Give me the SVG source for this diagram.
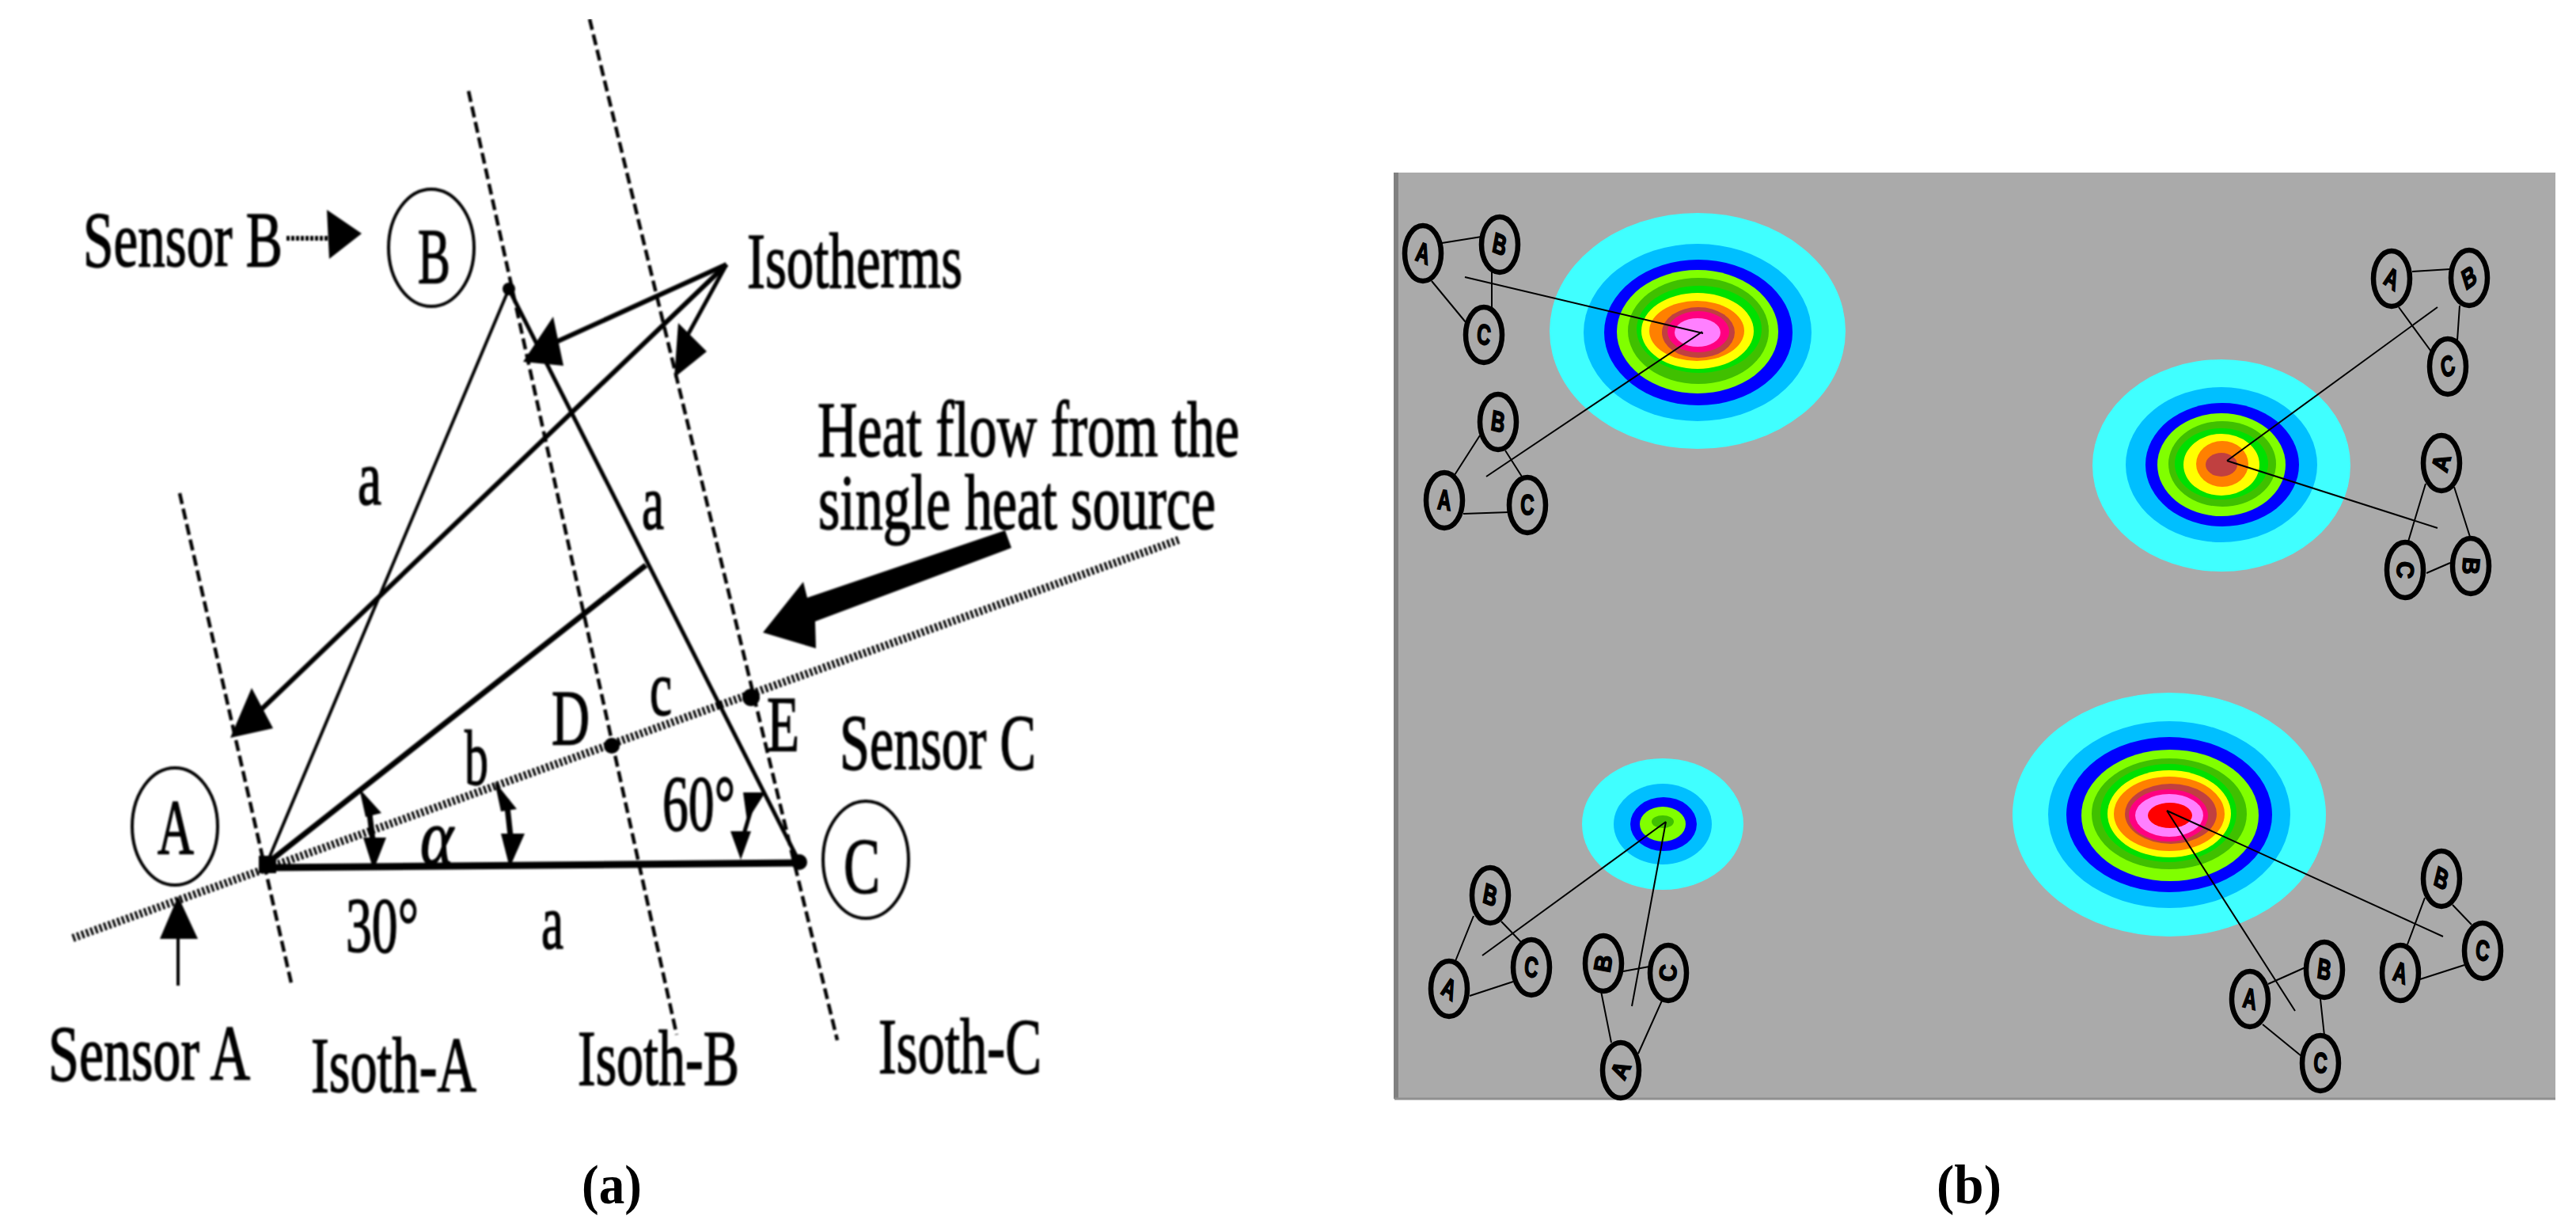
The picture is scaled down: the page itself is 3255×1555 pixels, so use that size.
<svg xmlns="http://www.w3.org/2000/svg" width="3255" height="1555" viewBox="0 0 3255 1555">
<defs><style>
.t{font-family:"Liberation Serif","Times New Roman",serif;font-size:100px;fill:#000;stroke:#000;stroke-width:1.6;}
.cap{font-family:"Liberation Serif","Times New Roman",serif;font-size:70px;font-weight:bold;fill:#000;}
.th{fill:none;stroke:#000;stroke-width:4;}
.iso{fill:none;stroke:#000;stroke-width:4.5;stroke-dasharray:14 6;}
.hatch{fill:none;stroke:#000;stroke-width:10;stroke-dasharray:3 3;}
.ln{fill:none;stroke:#000;stroke-width:5;}
.s{fill:none;stroke:#000;stroke-width:6.5;}
.c{fill:none;stroke:#000;stroke-width:2;}
.l{font-family:"Liberation Sans",Arial,sans-serif;font-size:30px;font-weight:bold;fill:#000;text-anchor:middle;stroke:#000;stroke-width:1.5;}
</style>
<filter id="soft" x="0" y="0" width="1" height="1"><feGaussianBlur stdDeviation="1"/></filter>
</defs>
<rect width="3255" height="1555" fill="#fff"/>

<g id="panel-a" filter="url(#soft)">
<g id="connectors-a">
<path class="iso" d="M227 623L369 1246"/>
<path class="iso" d="M592 115L855 1307"/>
<path class="iso" d="M745 24L1058 1314"/>
<path class="hatch" d="M92 1185L1492 681"/>
<path class="th" d="M337 1091L643 365"/>
<path class="ln" d="M643 365L1010 1089"/>
<path class="ln" style="stroke-width:7" d="M337 1091L816 714"/>
<path class="ln" style="stroke-width:9" d="M337 1096L1010 1090"/>
<path class="ln" style="stroke-width:6" d="M918 334L685 440"/>
<path class="ln" style="stroke-width:6" d="M918 334L300 925"/>
<path class="ln" d="M918 334L868 425"/>
<polygon points="699,400 661,457 712,462"/>
<polygon points="318,869 291,932 345,920"/>
<polygon points="857,408 893,444 852,477"/>
<polygon points="1270,670 1278,692 1030,785 1031,819 964,799 1015,735 1020,755"/>
<path class="th" d="M225 1245V1180"/>
<polygon points="225,1132 202,1186 250,1186"/>
<path class="ln" style="stroke-dasharray:4 2;stroke-width:6" d="M362 301H415"/>
<polygon points="413,265 457,295 416,327"/>
<path class="ln" style="stroke-width:7" d="M466 1020L472 1070"/>
<polygon points="454,996 482,1027 462,1032"/>
<polygon points="459,1058 488,1058 472,1099"/>
<path class="ln" style="stroke-width:7" d="M640 1010L646 1065"/>
<polygon points="625,987 653,1022 633,1025"/>
<polygon points="633,1053 663,1053 644,1096"/>
<path class="ln" d="M950 1020L938 1060"/>
<polygon points="939,1001 967,1001 944,1037"/>
<polygon points="923,1050 949,1050 936,1086"/>
</g>
<g id="node-A"><ellipse class="th" cx="221" cy="1044" rx="54" ry="74"/><text class="t" x="199" y="1079" textLength="46" lengthAdjust="spacingAndGlyphs">A</text></g>
<g id="node-B"><ellipse class="th" cx="545" cy="313" rx="54" ry="74"/><text class="t" x="528" y="357" textLength="41" lengthAdjust="spacingAndGlyphs">B</text></g>
<g id="node-C"><ellipse class="th" cx="1094" cy="1086" rx="54" ry="74"/><text class="t" x="1066" y="1127" textLength="46" lengthAdjust="spacingAndGlyphs">C</text></g>
<circle cx="643" cy="365" r="8"/>
<rect x="327" y="1081" width="22" height="22"/>
<circle cx="1010" cy="1089" r="10"/>
<circle cx="773" cy="942" r="10"/>
<circle cx="949" cy="881" r="11"/>
<g id="labels-a">
<text class="t" x="105" y="336" textLength="252" lengthAdjust="spacingAndGlyphs">Sensor B</text>
<text class="t" x="944" y="363" textLength="272" lengthAdjust="spacingAndGlyphs">Isotherms</text>
<text class="t" x="1033" y="576" textLength="533" lengthAdjust="spacingAndGlyphs">Heat flow from the</text>
<text class="t" x="1034" y="668" textLength="502" lengthAdjust="spacingAndGlyphs">single heat source</text>
<text class="t" x="452" y="637" textLength="30" lengthAdjust="spacingAndGlyphs">a</text>
<text class="t" x="811" y="668" textLength="28" lengthAdjust="spacingAndGlyphs">a</text>
<text class="t" x="821" y="903" textLength="28" lengthAdjust="spacingAndGlyphs">c</text>
<text class="t" x="697" y="940" textLength="48" lengthAdjust="spacingAndGlyphs">D</text>
<text class="t" x="969" y="948" textLength="41" lengthAdjust="spacingAndGlyphs">E</text>
<text class="t" x="587" y="991" textLength="30" lengthAdjust="spacingAndGlyphs">b</text>
<text class="t" x="1061" y="971" textLength="248" lengthAdjust="spacingAndGlyphs">Sensor C</text>
<text class="t" style="font-style:italic" x="531" y="1091" textLength="42" lengthAdjust="spacingAndGlyphs">α</text>
<text class="t" x="837" y="1048" textLength="92" lengthAdjust="spacingAndGlyphs">60°</text>
<text class="t" x="437" y="1202" textLength="92" lengthAdjust="spacingAndGlyphs">30°</text>
<text class="t" x="684" y="1198" textLength="28" lengthAdjust="spacingAndGlyphs">a</text>
<text class="t" x="61" y="1364" textLength="255" lengthAdjust="spacingAndGlyphs">Sensor A</text>
<text class="t" x="393" y="1379" textLength="209" lengthAdjust="spacingAndGlyphs">Isoth-A</text>
<text class="t" x="730" y="1370" textLength="204" lengthAdjust="spacingAndGlyphs">Isoth-B</text>
<text class="t" x="1110" y="1355" textLength="206" lengthAdjust="spacingAndGlyphs">Isoth-C</text>
</g>
</g>
<text class="cap" x="735" y="1520" textLength="76" lengthAdjust="spacingAndGlyphs">(a)</text>

<g id="panel-b">
<rect x="1762" y="218" width="1467" height="1170" fill="#aaa"/>
<path d="M1764 218V1388" stroke="#808080" stroke-width="6" fill="none"/>
<path d="M1762 1388H3229" stroke="#909090" stroke-width="3" fill="none"/>

<g id="source-1">
<ellipse cx="2145" cy="418" rx="187" ry="149" fill="#40ffff"/>
<ellipse cx="2145" cy="420" rx="144" ry="112" fill="#00bfff"/>
<ellipse cx="2146" cy="420" rx="119" ry="92" fill="#0000ff"/>
<ellipse cx="2145" cy="419" rx="102" ry="78" fill="#80ff00"/>
<ellipse cx="2146" cy="418" rx="89" ry="67" fill="#40c000"/>
<ellipse cx="2147" cy="416" rx="79" ry="55" fill="#00e000"/>
<ellipse cx="2145" cy="418" rx="71" ry="48" fill="#ffff00"/>
<ellipse cx="2144" cy="418" rx="60" ry="38" fill="#ff8000"/>
<ellipse cx="2146" cy="420" rx="46" ry="32" fill="#c04040"/>
<ellipse cx="2146" cy="419" rx="39" ry="26" fill="#ff0080"/>
<ellipse cx="2145" cy="420" rx="29" ry="18" fill="#ff80ff"/>
</g>
<g id="source-2">
<ellipse cx="2807" cy="588" rx="163" ry="134" fill="#40ffff"/>
<ellipse cx="2807" cy="587" rx="121" ry="98" fill="#00bfff"/>
<ellipse cx="2808" cy="587" rx="97" ry="78" fill="#0000ff"/>
<ellipse cx="2807" cy="587" rx="81" ry="65" fill="#80ff00"/>
<ellipse cx="2808" cy="586" rx="68" ry="54" fill="#40c000"/>
<ellipse cx="2807" cy="586" rx="59" ry="45" fill="#00e000"/>
<ellipse cx="2807" cy="587" rx="48" ry="39" fill="#ffff00"/>
<ellipse cx="2808" cy="586" rx="33" ry="29" fill="#ff8000"/>
<ellipse cx="2807" cy="587" rx="20" ry="15" fill="#c04040"/>
</g>
<g id="source-3">
<ellipse cx="2101" cy="1041" rx="102" ry="83" fill="#40ffff"/>
<ellipse cx="2101" cy="1041" rx="62" ry="51" fill="#00bfff"/>
<ellipse cx="2102" cy="1041" rx="42" ry="34" fill="#0000ff"/>
<ellipse cx="2101" cy="1041" rx="29" ry="22" fill="#80ff00"/>
<ellipse cx="2101" cy="1038" rx="14" ry="8" fill="#40c000"/>
</g>
<g id="source-4">
<ellipse cx="2741" cy="1029" rx="198" ry="154" fill="#40ffff"/>
<ellipse cx="2741" cy="1029" rx="153" ry="118" fill="#00bfff"/>
<ellipse cx="2741" cy="1029" rx="130" ry="98" fill="#0000ff"/>
<ellipse cx="2742" cy="1030" rx="112" ry="83" fill="#80ff00"/>
<ellipse cx="2741" cy="1028" rx="98" ry="70" fill="#40c000"/>
<ellipse cx="2740" cy="1027" rx="86" ry="62" fill="#00e000"/>
<ellipse cx="2741" cy="1028" rx="78" ry="55" fill="#ffff00"/>
<ellipse cx="2741" cy="1028" rx="70" ry="47" fill="#ff8000"/>
<ellipse cx="2743" cy="1028" rx="58" ry="38" fill="#c04040"/>
<ellipse cx="2740" cy="1030" rx="50" ry="33" fill="#ff0080"/>
<ellipse cx="2741" cy="1030" rx="43" ry="27" fill="#ff80ff"/>
<ellipse cx="2742" cy="1030" rx="28" ry="16" fill="#ff0000"/>
</g>

<g id="connectors-b">
<path class="c" d="M1851 350L2152 421M1878 602L2151 419M3080 388L2814 582M3080 667L2814 582M1873 1207L2105 1038M2062 1271L2105 1038M2900 1277L2738 1024M3087 1183L2738 1024"/>
<path class="c" d="M1822 307L1872 299M1809 355L1852 407M1885 344V388"/>
<path class="c" d="M1838 600L1870 550M1902 569L1923 602M1849 649L1907 647"/>
<path class="c" d="M3048 343L3096 340M3031 388L3072 444M3108 386L3105 430"/>
<path class="c" d="M3065 611L3043 684M3101 615L3121 678M3066 724L3096 711"/>
<path class="c" d="M1839 1214L1862 1157M1897 1164L1922 1190M1857 1258L1912 1240"/>
<path class="c" d="M2051 1227L2084 1221M2023 1252L2036 1317M2100 1264L2070 1331"/>
<path class="c" d="M2866 1243L2913 1222M2859 1294L2908 1334M2932 1262L2937 1308"/>
<path class="c" d="M3042 1193L3064 1134M3099 1143L3123 1168M3058 1237L3114 1219"/>
</g>

<g id="sensors-1">
<ellipse class="s" cx="1798" cy="320" rx="23" ry="35"/><text class="l" transform="translate(1798 320) scale(.8 1.2) rotate(15)" y="10">A</text>
<ellipse class="s" cx="1895" cy="309" rx="23" ry="35"/><text class="l" transform="translate(1895 309) scale(.8 1.2) rotate(15)" y="10">B</text>
<ellipse class="s" cx="1875" cy="423" rx="23" ry="35"/><text class="l" transform="translate(1875 423) scale(.8 1.2) rotate(10)" y="10">C</text>
</g>
<g id="sensors-2">
<ellipse class="s" cx="1825" cy="632" rx="23" ry="35"/><text class="l" transform="translate(1825 632) scale(.8 1.2) rotate(5)" y="10">A</text>
<ellipse class="s" cx="1893" cy="533" rx="23" ry="35"/><text class="l" transform="translate(1893 533) scale(.8 1.2) rotate(10)" y="10">B</text>
<ellipse class="s" cx="1930" cy="638" rx="23" ry="35"/><text class="l" transform="translate(1930 638) scale(.8 1.2) rotate(2)" y="10">C</text>
</g>
<g id="sensors-3">
<ellipse class="s" cx="3022" cy="352" rx="23" ry="35"/><text class="l" transform="translate(3022 352) scale(.8 1.2) rotate(25)" y="10">A</text>
<ellipse class="s" cx="3120" cy="351" rx="23" ry="35"/><text class="l" transform="translate(3120 351) scale(.8 1.2) rotate(-25)" y="10">B</text>
<ellipse class="s" cx="3093" cy="463" rx="23" ry="35"/><text class="l" transform="translate(3093 463) scale(.8 1.2) rotate(-20)" y="10">C</text>
</g>
<g id="sensors-4">
<ellipse class="s" cx="3085" cy="585" rx="23" ry="35"/><text class="l" transform="translate(3085 585) rotate(-75)" y="10">A</text>
<ellipse class="s" cx="3122" cy="715" rx="23" ry="35"/><text class="l" transform="translate(3122 715) rotate(95)" y="10">B</text>
<ellipse class="s" cx="3039" cy="720" rx="23" ry="35"/><text class="l" transform="translate(3039 720) rotate(95)" y="10">C</text>
</g>
<g id="sensors-5">
<ellipse class="s" cx="1831" cy="1249" rx="23" ry="35"/><text class="l" transform="translate(1831 1249) scale(.8 1.2) rotate(25)" y="10">A</text>
<ellipse class="s" cx="1883" cy="1131" rx="23" ry="35"/><text class="l" transform="translate(1883 1131) scale(.8 1.2) rotate(15)" y="10">B</text>
<ellipse class="s" cx="1935" cy="1222" rx="23" ry="35"/><text class="l" transform="translate(1935 1222) scale(.8 1.2) rotate(10)" y="10">C</text>
</g>
<g id="sensors-6">
<ellipse class="s" cx="2048" cy="1352" rx="23" ry="35"/><text class="l" transform="translate(2048 1352) rotate(-65)" y="10">A</text>
<ellipse class="s" cx="2026" cy="1217" rx="23" ry="35"/><text class="l" transform="translate(2026 1217) rotate(-80)" y="10">B</text>
<ellipse class="s" cx="2108" cy="1229" rx="23" ry="35"/><text class="l" transform="translate(2108 1229) rotate(-85)" y="10">C</text>
</g>
<g id="sensors-7">
<ellipse class="s" cx="2843" cy="1262" rx="23" ry="35"/><text class="l" transform="translate(2843 1262) scale(.8 1.2) rotate(10)" y="10">A</text>
<ellipse class="s" cx="2937" cy="1225" rx="23" ry="35"/><text class="l" transform="translate(2937 1225) scale(.8 1.2) rotate(10)" y="10">B</text>
<ellipse class="s" cx="2932" cy="1343" rx="23" ry="35"/><text class="l" transform="translate(2932 1343) scale(.8 1.2) rotate(5)" y="10">C</text>
</g>
<g id="sensors-8">
<ellipse class="s" cx="3033" cy="1229" rx="23" ry="35"/><text class="l" transform="translate(3033 1229) scale(.8 1.2) rotate(15)" y="10">A</text>
<ellipse class="s" cx="3085" cy="1110" rx="23" ry="35"/><text class="l" transform="translate(3085 1110) scale(.8 1.2) rotate(20)" y="10">B</text>
<ellipse class="s" cx="3137" cy="1201" rx="23" ry="35"/><text class="l" transform="translate(3137 1201) scale(.8 1.2) rotate(10)" y="10">C</text>
</g>
</g>
<text class="cap" x="2447" y="1520" textLength="82" lengthAdjust="spacingAndGlyphs">(b)</text>
</svg>
